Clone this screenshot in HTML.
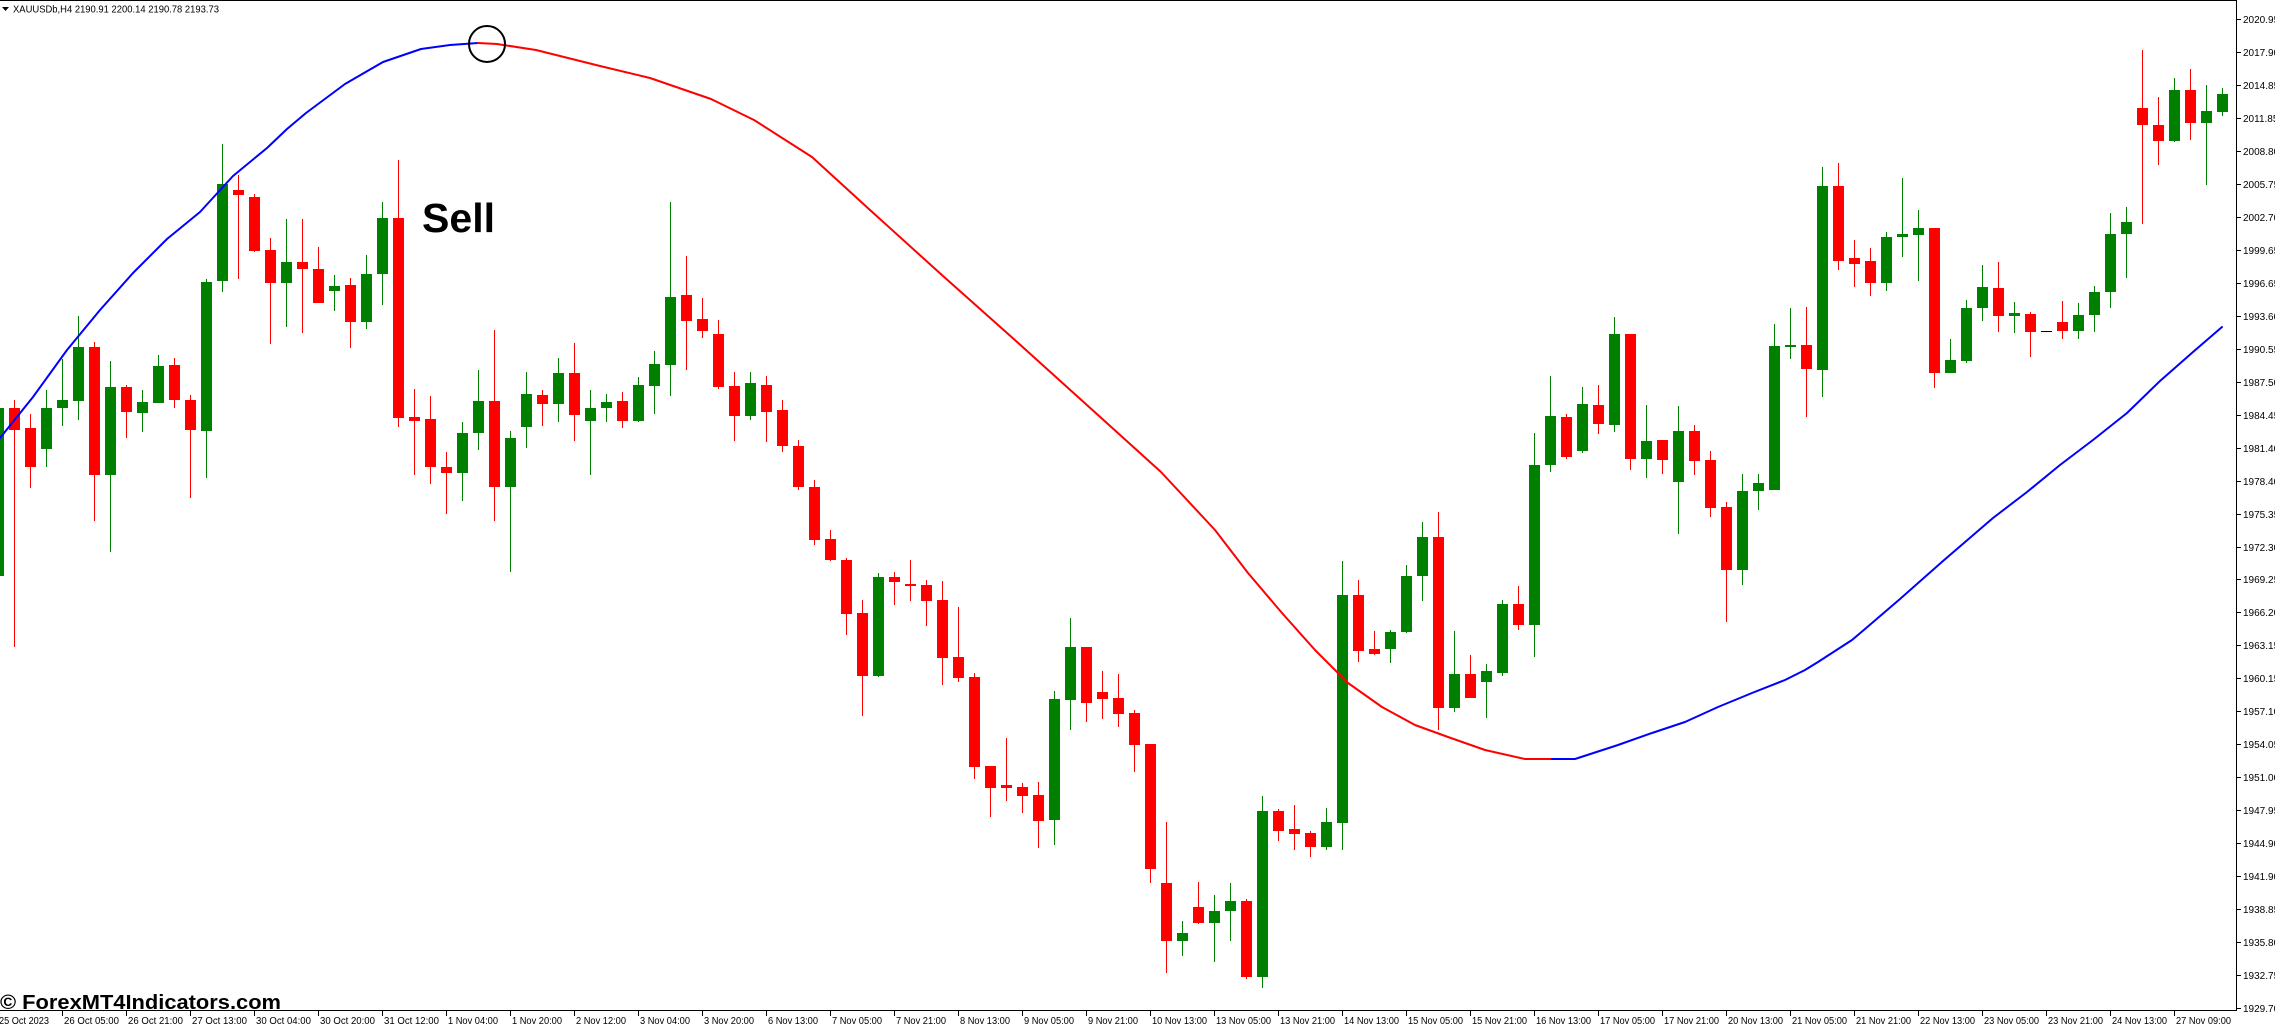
<!DOCTYPE html>
<html><head><meta charset="utf-8"><style>html,body{margin:0;padding:0;background:#fff;}svg{display:block}</style></head>
<body>
<svg width="2275" height="1026" viewBox="0 0 2275 1026" xmlns="http://www.w3.org/2000/svg">
<rect x="0" y="0" width="2275" height="1026" fill="#fff"/>
<!-- green candles -->
<g fill="#008000">
<rect x="-2" y="400" width="1" height="178"/><rect x="-7" y="408" width="11" height="168"/>
<rect x="46" y="390" width="1" height="77"/><rect x="41" y="408" width="11" height="41"/>
<rect x="62" y="359" width="1" height="67"/><rect x="57" y="400" width="11" height="8"/>
<rect x="78" y="316" width="1" height="104"/><rect x="73" y="347" width="11" height="54"/>
<rect x="110" y="361" width="1" height="191"/><rect x="105" y="387" width="11" height="88"/>
<rect x="142" y="390" width="1" height="42"/><rect x="137" y="402" width="11" height="11"/>
<rect x="158" y="355" width="1" height="48"/><rect x="153" y="366" width="11" height="37"/>
<rect x="206" y="279" width="1" height="199"/><rect x="201" y="282" width="11" height="149"/>
<rect x="222" y="144" width="1" height="148"/><rect x="217" y="184" width="11" height="97"/>
<rect x="286" y="219" width="1" height="108"/><rect x="281" y="262" width="11" height="21"/>
<rect x="334" y="275" width="1" height="36"/><rect x="329" y="286" width="11" height="5"/>
<rect x="366" y="255" width="1" height="74"/><rect x="361" y="274" width="11" height="48"/>
<rect x="382" y="202" width="1" height="103"/><rect x="377" y="218" width="11" height="56"/>
<rect x="462" y="422" width="1" height="79"/><rect x="457" y="433" width="11" height="40"/>
<rect x="478" y="370" width="1" height="80"/><rect x="473" y="401" width="11" height="32"/>
<rect x="510" y="431" width="1" height="141"/><rect x="505" y="438" width="11" height="49"/>
<rect x="526" y="372" width="1" height="76"/><rect x="521" y="394" width="11" height="33"/>
<rect x="558" y="358" width="1" height="64"/><rect x="553" y="373" width="11" height="31"/>
<rect x="590" y="390" width="1" height="85"/><rect x="585" y="408" width="11" height="13"/>
<rect x="606" y="394" width="1" height="28"/><rect x="601" y="402" width="11" height="6"/>
<rect x="638" y="377" width="1" height="45"/><rect x="633" y="385" width="11" height="36"/>
<rect x="654" y="351" width="1" height="63"/><rect x="649" y="364" width="11" height="22"/>
<rect x="670" y="202" width="1" height="194"/><rect x="665" y="297" width="11" height="68"/>
<rect x="750" y="372" width="1" height="48"/><rect x="745" y="383" width="11" height="33"/>
<rect x="878" y="573" width="1" height="104"/><rect x="873" y="577" width="11" height="99"/>
<rect x="1054" y="691" width="1" height="154"/><rect x="1049" y="699" width="11" height="121"/>
<rect x="1070" y="618" width="1" height="112"/><rect x="1065" y="647" width="11" height="53"/>
<rect x="1182" y="921" width="1" height="35"/><rect x="1177" y="933" width="11" height="8"/>
<rect x="1214" y="895" width="1" height="67"/><rect x="1209" y="911" width="11" height="12"/>
<rect x="1230" y="883" width="1" height="58"/><rect x="1225" y="901" width="11" height="10"/>
<rect x="1262" y="796" width="1" height="192"/><rect x="1257" y="811" width="11" height="166"/>
<rect x="1326" y="808" width="1" height="42"/><rect x="1321" y="822" width="11" height="25"/>
<rect x="1342" y="561" width="1" height="289"/><rect x="1337" y="595" width="11" height="228"/>
<rect x="1390" y="630" width="1" height="33"/><rect x="1385" y="632" width="11" height="17"/>
<rect x="1406" y="565" width="1" height="68"/><rect x="1401" y="576" width="11" height="56"/>
<rect x="1422" y="522" width="1" height="79"/><rect x="1417" y="537" width="11" height="39"/>
<rect x="1454" y="631" width="1" height="81"/><rect x="1449" y="674" width="11" height="34"/>
<rect x="1486" y="664" width="1" height="54"/><rect x="1481" y="671" width="11" height="11"/>
<rect x="1502" y="600" width="1" height="76"/><rect x="1497" y="604" width="11" height="69"/>
<rect x="1534" y="433" width="1" height="224"/><rect x="1529" y="465" width="11" height="160"/>
<rect x="1550" y="376" width="1" height="96"/><rect x="1545" y="416" width="11" height="49"/>
<rect x="1582" y="387" width="1" height="66"/><rect x="1577" y="404" width="11" height="47"/>
<rect x="1614" y="317" width="1" height="115"/><rect x="1609" y="334" width="11" height="91"/>
<rect x="1646" y="405" width="1" height="73"/><rect x="1641" y="441" width="11" height="18"/>
<rect x="1678" y="406" width="1" height="128"/><rect x="1673" y="431" width="11" height="51"/>
<rect x="1742" y="474" width="1" height="111"/><rect x="1737" y="491" width="11" height="79"/>
<rect x="1758" y="474" width="1" height="36"/><rect x="1753" y="483" width="11" height="8"/>
<rect x="1774" y="324" width="1" height="166"/><rect x="1769" y="346" width="11" height="144"/>
<rect x="1790" y="308" width="1" height="51"/><rect x="1785" y="345" width="11" height="2"/>
<rect x="1822" y="167" width="1" height="230"/><rect x="1817" y="186" width="11" height="184"/>
<rect x="1886" y="232" width="1" height="59"/><rect x="1881" y="237" width="11" height="46"/>
<rect x="1902" y="178" width="1" height="79"/><rect x="1897" y="234" width="11" height="3"/>
<rect x="1918" y="210" width="1" height="71"/><rect x="1913" y="228" width="11" height="7"/>
<rect x="1950" y="339" width="1" height="34"/><rect x="1945" y="360" width="11" height="13"/>
<rect x="1966" y="300" width="1" height="63"/><rect x="1961" y="308" width="11" height="53"/>
<rect x="1982" y="265" width="1" height="56"/><rect x="1977" y="287" width="11" height="21"/>
<rect x="2014" y="302" width="1" height="31"/><rect x="2009" y="313" width="11" height="3"/>
<rect x="2078" y="303" width="1" height="36"/><rect x="2073" y="315" width="11" height="16"/>
<rect x="2094" y="286" width="1" height="46"/><rect x="2089" y="292" width="11" height="23"/>
<rect x="2110" y="213" width="1" height="95"/><rect x="2105" y="234" width="11" height="58"/>
<rect x="2126" y="207" width="1" height="71"/><rect x="2121" y="222" width="11" height="12"/>
<rect x="2174" y="78" width="1" height="64"/><rect x="2169" y="90" width="11" height="51"/>
<rect x="2206" y="85" width="1" height="100"/><rect x="2201" y="111" width="11" height="12"/>
<rect x="2222" y="88" width="1" height="28"/><rect x="2217" y="94" width="11" height="18"/>
</g>
<!-- red candles -->
<g fill="#ff0000">
<rect x="14" y="400" width="1" height="247"/><rect x="9" y="408" width="11" height="22"/>
<rect x="30" y="414" width="1" height="74"/><rect x="25" y="428" width="11" height="39"/>
<rect x="94" y="342" width="1" height="179"/><rect x="89" y="347" width="11" height="128"/>
<rect x="126" y="385" width="1" height="53"/><rect x="121" y="387" width="11" height="25"/>
<rect x="174" y="358" width="1" height="50"/><rect x="169" y="365" width="11" height="35"/>
<rect x="190" y="395" width="1" height="103"/><rect x="185" y="400" width="11" height="30"/>
<rect x="238" y="175" width="1" height="104"/><rect x="233" y="190" width="11" height="5"/>
<rect x="254" y="194" width="1" height="58"/><rect x="249" y="197" width="11" height="54"/>
<rect x="270" y="238" width="1" height="106"/><rect x="265" y="250" width="11" height="33"/>
<rect x="302" y="219" width="1" height="114"/><rect x="297" y="262" width="11" height="7"/>
<rect x="318" y="247" width="1" height="56"/><rect x="313" y="269" width="11" height="34"/>
<rect x="350" y="278" width="1" height="70"/><rect x="345" y="285" width="11" height="37"/>
<rect x="398" y="160" width="1" height="267"/><rect x="393" y="218" width="11" height="200"/>
<rect x="414" y="389" width="1" height="86"/><rect x="409" y="417" width="11" height="4"/>
<rect x="430" y="396" width="1" height="88"/><rect x="425" y="419" width="11" height="48"/>
<rect x="446" y="452" width="1" height="62"/><rect x="441" y="467" width="11" height="6"/>
<rect x="494" y="330" width="1" height="191"/><rect x="489" y="401" width="11" height="86"/>
<rect x="542" y="390" width="1" height="36"/><rect x="537" y="395" width="11" height="9"/>
<rect x="574" y="343" width="1" height="98"/><rect x="569" y="373" width="11" height="42"/>
<rect x="622" y="392" width="1" height="36"/><rect x="617" y="401" width="11" height="20"/>
<rect x="686" y="256" width="1" height="114"/><rect x="681" y="295" width="11" height="26"/>
<rect x="702" y="298" width="1" height="40"/><rect x="697" y="319" width="11" height="12"/>
<rect x="718" y="320" width="1" height="69"/><rect x="713" y="334" width="11" height="53"/>
<rect x="734" y="372" width="1" height="69"/><rect x="729" y="386" width="11" height="30"/>
<rect x="766" y="376" width="1" height="66"/><rect x="761" y="385" width="11" height="27"/>
<rect x="782" y="400" width="1" height="52"/><rect x="777" y="410" width="11" height="36"/>
<rect x="798" y="440" width="1" height="50"/><rect x="793" y="446" width="11" height="41"/>
<rect x="814" y="480" width="1" height="65"/><rect x="809" y="487" width="11" height="53"/>
<rect x="830" y="530" width="1" height="31"/><rect x="825" y="539" width="11" height="21"/>
<rect x="846" y="558" width="1" height="77"/><rect x="841" y="560" width="11" height="54"/>
<rect x="862" y="600" width="1" height="116"/><rect x="857" y="613" width="11" height="63"/>
<rect x="894" y="572" width="1" height="33"/><rect x="889" y="577" width="11" height="5"/>
<rect x="910" y="560" width="1" height="41"/><rect x="905" y="584" width="11" height="2"/>
<rect x="926" y="580" width="1" height="46"/><rect x="921" y="585" width="11" height="16"/>
<rect x="942" y="581" width="1" height="104"/><rect x="937" y="600" width="11" height="58"/>
<rect x="958" y="607" width="1" height="75"/><rect x="953" y="657" width="11" height="21"/>
<rect x="974" y="673" width="1" height="106"/><rect x="969" y="677" width="11" height="90"/>
<rect x="990" y="766" width="1" height="51"/><rect x="985" y="766" width="11" height="22"/>
<rect x="1006" y="738" width="1" height="63"/><rect x="1001" y="785" width="11" height="3"/>
<rect x="1022" y="783" width="1" height="30"/><rect x="1017" y="787" width="11" height="9"/>
<rect x="1038" y="782" width="1" height="66"/><rect x="1033" y="795" width="11" height="26"/>
<rect x="1086" y="647" width="1" height="75"/><rect x="1081" y="647" width="11" height="56"/>
<rect x="1102" y="671" width="1" height="48"/><rect x="1097" y="692" width="11" height="7"/>
<rect x="1118" y="674" width="1" height="53"/><rect x="1113" y="698" width="11" height="16"/>
<rect x="1134" y="710" width="1" height="62"/><rect x="1129" y="713" width="11" height="32"/>
<rect x="1150" y="744" width="1" height="139"/><rect x="1145" y="744" width="11" height="125"/>
<rect x="1166" y="822" width="1" height="151"/><rect x="1161" y="883" width="11" height="58"/>
<rect x="1198" y="882" width="1" height="42"/><rect x="1193" y="907" width="11" height="16"/>
<rect x="1246" y="899" width="1" height="80"/><rect x="1241" y="901" width="11" height="76"/>
<rect x="1278" y="809" width="1" height="32"/><rect x="1273" y="811" width="11" height="20"/>
<rect x="1294" y="805" width="1" height="45"/><rect x="1289" y="829" width="11" height="5"/>
<rect x="1310" y="831" width="1" height="26"/><rect x="1305" y="833" width="11" height="14"/>
<rect x="1358" y="580" width="1" height="82"/><rect x="1353" y="595" width="11" height="56"/>
<rect x="1374" y="631" width="1" height="24"/><rect x="1369" y="649" width="11" height="5"/>
<rect x="1438" y="512" width="1" height="218"/><rect x="1433" y="537" width="11" height="171"/>
<rect x="1470" y="655" width="1" height="43"/><rect x="1465" y="674" width="11" height="24"/>
<rect x="1518" y="586" width="1" height="44"/><rect x="1513" y="604" width="11" height="21"/>
<rect x="1566" y="414" width="1" height="45"/><rect x="1561" y="417" width="11" height="40"/>
<rect x="1598" y="385" width="1" height="49"/><rect x="1593" y="405" width="11" height="19"/>
<rect x="1630" y="334" width="1" height="136"/><rect x="1625" y="334" width="11" height="125"/>
<rect x="1662" y="440" width="1" height="34"/><rect x="1657" y="440" width="11" height="20"/>
<rect x="1694" y="425" width="1" height="50"/><rect x="1689" y="431" width="11" height="30"/>
<rect x="1710" y="451" width="1" height="66"/><rect x="1705" y="460" width="11" height="48"/>
<rect x="1726" y="502" width="1" height="120"/><rect x="1721" y="507" width="11" height="63"/>
<rect x="1806" y="307" width="1" height="110"/><rect x="1801" y="345" width="11" height="24"/>
<rect x="1838" y="163" width="1" height="107"/><rect x="1833" y="186" width="11" height="75"/>
<rect x="1854" y="240" width="1" height="47"/><rect x="1849" y="258" width="11" height="6"/>
<rect x="1870" y="248" width="1" height="48"/><rect x="1865" y="261" width="11" height="22"/>
<rect x="1934" y="228" width="1" height="160"/><rect x="1929" y="228" width="11" height="145"/>
<rect x="1998" y="262" width="1" height="70"/><rect x="1993" y="288" width="11" height="28"/>
<rect x="2030" y="312" width="1" height="45"/><rect x="2025" y="314" width="11" height="18"/>
<rect x="2062" y="301" width="1" height="38"/><rect x="2057" y="322" width="11" height="9"/>
<rect x="2142" y="50" width="1" height="174"/><rect x="2137" y="108" width="11" height="17"/>
<rect x="2158" y="97" width="1" height="68"/><rect x="2153" y="125" width="11" height="16"/>
<rect x="2190" y="69" width="1" height="71"/><rect x="2185" y="90" width="11" height="33"/>
</g>
<rect x="2041" y="331" width="11" height="1" fill="#000"/>

<!-- indicator line -->
<g fill="none" stroke-width="2" stroke-linejoin="round" stroke-linecap="round">
<polyline stroke="#0000ff" points="-2,440 0,438 33,397 67,350 100,310 133,273 167,239 200,212 233,176 267,148 287,129 306,113 345,84 383,62 421,49 450,45 478,43"/>
<polyline stroke="#ff0000" points="478,43 497,44 536,50 600,66 650,78 711,99 754,120 812,157 870,210 943,276 1016,341 1088,406 1161,472 1215,530 1248,573 1282,613 1315,650 1338,673 1348,683 1382,707 1415,725 1448,737 1485,750 1525,759 1552,759"/>
<polyline stroke="#0000ff" points="1552,759 1575,759 1618,745 1652,733 1685,722 1718,707 1752,693 1785,680 1805,670 1818,662 1852,640 1865,629 1900,599 1943,561 1993,518 2027,492 2060,465 2093,440 2127,413 2160,381 2193,352 2222,327"/>
</g>
<circle cx="487" cy="44" r="18" fill="none" stroke="#000" stroke-width="2"/>

<text x="422" y="232" font-family="Liberation Sans, Arial, sans-serif" font-weight="bold" font-size="41" textLength="73" lengthAdjust="spacingAndGlyphs" fill="#000">Sell</text>

<!-- frame -->
<g stroke="#000" stroke-width="1" fill="none">
<line x1="0" y1="0.5" x2="2237" y2="0.5"/>
<line x1="2236.5" y1="0" x2="2236.5" y2="1011"/>
<line x1="0" y1="1010.5" x2="2237" y2="1010.5"/>
</g>

<!-- title -->
<polygon points="2,7 9,7 5.5,11" fill="#000"/>
<text x="13" y="12.5" font-family="Liberation Sans, Arial, sans-serif" font-size="10" textLength="206" lengthAdjust="spacingAndGlyphs" fill="#000">XAUUSDb,H4  2190.91 2200.14 2190.78 2193.73</text>

<!-- copyright -->
<text x="0" y="1009" font-family="Liberation Sans, Arial, sans-serif" font-weight="bold" font-size="20" textLength="281" lengthAdjust="spacingAndGlyphs" fill="#000">© ForexMT4Indicators.com</text>

<!-- price axis ticks -->
<g stroke="#000" stroke-width="1">
<line x1="2237" y1="19.5" x2="2241" y2="19.5"/><line x1="2237" y1="52.5" x2="2241" y2="52.5"/><line x1="2237" y1="85.5" x2="2241" y2="85.5"/><line x1="2237" y1="118.5" x2="2241" y2="118.5"/><line x1="2237" y1="151.5" x2="2241" y2="151.5"/><line x1="2237" y1="184.5" x2="2241" y2="184.5"/><line x1="2237" y1="217.5" x2="2241" y2="217.5"/><line x1="2237" y1="250.5" x2="2241" y2="250.5"/><line x1="2237" y1="283.5" x2="2241" y2="283.5"/><line x1="2237" y1="316.5" x2="2241" y2="316.5"/><line x1="2237" y1="349.5" x2="2241" y2="349.5"/><line x1="2237" y1="382.5" x2="2241" y2="382.5"/><line x1="2237" y1="415.5" x2="2241" y2="415.5"/><line x1="2237" y1="448.5" x2="2241" y2="448.5"/><line x1="2237" y1="481.5" x2="2241" y2="481.5"/><line x1="2237" y1="514.5" x2="2241" y2="514.5"/><line x1="2237" y1="547.5" x2="2241" y2="547.5"/><line x1="2237" y1="579.5" x2="2241" y2="579.5"/><line x1="2237" y1="612.5" x2="2241" y2="612.5"/><line x1="2237" y1="645.5" x2="2241" y2="645.5"/><line x1="2237" y1="678.5" x2="2241" y2="678.5"/><line x1="2237" y1="711.5" x2="2241" y2="711.5"/><line x1="2237" y1="744.5" x2="2241" y2="744.5"/><line x1="2237" y1="777.5" x2="2241" y2="777.5"/><line x1="2237" y1="810.5" x2="2241" y2="810.5"/><line x1="2237" y1="843.5" x2="2241" y2="843.5"/><line x1="2237" y1="876.5" x2="2241" y2="876.5"/><line x1="2237" y1="909.5" x2="2241" y2="909.5"/><line x1="2237" y1="942.5" x2="2241" y2="942.5"/><line x1="2237" y1="975.5" x2="2241" y2="975.5"/><line x1="2237" y1="1008.5" x2="2241" y2="1008.5"/>
</g>
<g font-family="Liberation Sans, Arial, sans-serif" font-size="10" fill="#000">
<text x="2243" y="23">2020.95</text><text x="2243" y="56">2017.90</text><text x="2243" y="89">2014.85</text><text x="2243" y="122">2011.85</text><text x="2243" y="155">2008.80</text><text x="2243" y="188">2005.75</text><text x="2243" y="221">2002.70</text><text x="2243" y="254">1999.65</text><text x="2243" y="287">1996.65</text><text x="2243" y="320">1993.60</text><text x="2243" y="353">1990.55</text><text x="2243" y="386">1987.50</text><text x="2243" y="419">1984.45</text><text x="2243" y="452">1981.40</text><text x="2243" y="485">1978.40</text><text x="2243" y="518">1975.35</text><text x="2243" y="551">1972.30</text><text x="2243" y="583">1969.25</text><text x="2243" y="616">1966.20</text><text x="2243" y="649">1963.15</text><text x="2243" y="682">1960.15</text><text x="2243" y="715">1957.10</text><text x="2243" y="748">1954.05</text><text x="2243" y="781">1951.00</text><text x="2243" y="814">1947.95</text><text x="2243" y="847">1944.90</text><text x="2243" y="880">1941.90</text><text x="2243" y="913">1938.85</text><text x="2243" y="946">1935.80</text><text x="2243" y="979">1932.75</text><text x="2243" y="1012">1929.70</text>
</g>

<!-- time axis ticks -->
<g stroke="#000" stroke-width="1">
<line x1="-1.5" y1="1011" x2="-1.5" y2="1016"/><line x1="62.5" y1="1011" x2="62.5" y2="1016"/><line x1="126.5" y1="1011" x2="126.5" y2="1016"/><line x1="190.5" y1="1011" x2="190.5" y2="1016"/><line x1="254.5" y1="1011" x2="254.5" y2="1016"/><line x1="318.5" y1="1011" x2="318.5" y2="1016"/><line x1="382.5" y1="1011" x2="382.5" y2="1016"/><line x1="446.5" y1="1011" x2="446.5" y2="1016"/><line x1="510.5" y1="1011" x2="510.5" y2="1016"/><line x1="574.5" y1="1011" x2="574.5" y2="1016"/><line x1="638.5" y1="1011" x2="638.5" y2="1016"/><line x1="702.5" y1="1011" x2="702.5" y2="1016"/><line x1="766.5" y1="1011" x2="766.5" y2="1016"/><line x1="830.5" y1="1011" x2="830.5" y2="1016"/><line x1="894.5" y1="1011" x2="894.5" y2="1016"/><line x1="958.5" y1="1011" x2="958.5" y2="1016"/><line x1="1022.5" y1="1011" x2="1022.5" y2="1016"/><line x1="1086.5" y1="1011" x2="1086.5" y2="1016"/><line x1="1150.5" y1="1011" x2="1150.5" y2="1016"/><line x1="1214.5" y1="1011" x2="1214.5" y2="1016"/><line x1="1278.5" y1="1011" x2="1278.5" y2="1016"/><line x1="1342.5" y1="1011" x2="1342.5" y2="1016"/><line x1="1406.5" y1="1011" x2="1406.5" y2="1016"/><line x1="1470.5" y1="1011" x2="1470.5" y2="1016"/><line x1="1534.5" y1="1011" x2="1534.5" y2="1016"/><line x1="1598.5" y1="1011" x2="1598.5" y2="1016"/><line x1="1662.5" y1="1011" x2="1662.5" y2="1016"/><line x1="1726.5" y1="1011" x2="1726.5" y2="1016"/><line x1="1790.5" y1="1011" x2="1790.5" y2="1016"/><line x1="1854.5" y1="1011" x2="1854.5" y2="1016"/><line x1="1918.5" y1="1011" x2="1918.5" y2="1016"/><line x1="1982.5" y1="1011" x2="1982.5" y2="1016"/><line x1="2046.5" y1="1011" x2="2046.5" y2="1016"/><line x1="2110.5" y1="1011" x2="2110.5" y2="1016"/><line x1="2174.5" y1="1011" x2="2174.5" y2="1016"/>
</g>
<g font-family="Liberation Sans, Arial, sans-serif" font-size="10" fill="#000" lengthAdjust="spacingAndGlyphs">
<text x="-1" y="1024" textLength="50" lengthAdjust="spacingAndGlyphs">25 Oct 2023</text>
<text x="64" y="1024" textLength="55" lengthAdjust="spacingAndGlyphs">26 Oct 05:00</text>
<text x="128" y="1024" textLength="55" lengthAdjust="spacingAndGlyphs">26 Oct 21:00</text>
<text x="192" y="1024" textLength="55" lengthAdjust="spacingAndGlyphs">27 Oct 13:00</text>
<text x="256" y="1024" textLength="55" lengthAdjust="spacingAndGlyphs">30 Oct 04:00</text>
<text x="320" y="1024" textLength="55" lengthAdjust="spacingAndGlyphs">30 Oct 20:00</text>
<text x="384" y="1024" textLength="55" lengthAdjust="spacingAndGlyphs">31 Oct 12:00</text>
<text x="448" y="1024" textLength="50" lengthAdjust="spacingAndGlyphs">1 Nov 04:00</text>
<text x="512" y="1024" textLength="50" lengthAdjust="spacingAndGlyphs">1 Nov 20:00</text>
<text x="576" y="1024" textLength="50" lengthAdjust="spacingAndGlyphs">2 Nov 12:00</text>
<text x="640" y="1024" textLength="50" lengthAdjust="spacingAndGlyphs">3 Nov 04:00</text>
<text x="704" y="1024" textLength="50" lengthAdjust="spacingAndGlyphs">3 Nov 20:00</text>
<text x="768" y="1024" textLength="50" lengthAdjust="spacingAndGlyphs">6 Nov 13:00</text>
<text x="832" y="1024" textLength="50" lengthAdjust="spacingAndGlyphs">7 Nov 05:00</text>
<text x="896" y="1024" textLength="50" lengthAdjust="spacingAndGlyphs">7 Nov 21:00</text>
<text x="960" y="1024" textLength="50" lengthAdjust="spacingAndGlyphs">8 Nov 13:00</text>
<text x="1024" y="1024" textLength="50" lengthAdjust="spacingAndGlyphs">9 Nov 05:00</text>
<text x="1088" y="1024" textLength="50" lengthAdjust="spacingAndGlyphs">9 Nov 21:00</text>
<text x="1152" y="1024" textLength="55" lengthAdjust="spacingAndGlyphs">10 Nov 13:00</text>
<text x="1216" y="1024" textLength="55" lengthAdjust="spacingAndGlyphs">13 Nov 05:00</text>
<text x="1280" y="1024" textLength="55" lengthAdjust="spacingAndGlyphs">13 Nov 21:00</text>
<text x="1344" y="1024" textLength="55" lengthAdjust="spacingAndGlyphs">14 Nov 13:00</text>
<text x="1408" y="1024" textLength="55" lengthAdjust="spacingAndGlyphs">15 Nov 05:00</text>
<text x="1472" y="1024" textLength="55" lengthAdjust="spacingAndGlyphs">15 Nov 21:00</text>
<text x="1536" y="1024" textLength="55" lengthAdjust="spacingAndGlyphs">16 Nov 13:00</text>
<text x="1600" y="1024" textLength="55" lengthAdjust="spacingAndGlyphs">17 Nov 05:00</text>
<text x="1664" y="1024" textLength="55" lengthAdjust="spacingAndGlyphs">17 Nov 21:00</text>
<text x="1728" y="1024" textLength="55" lengthAdjust="spacingAndGlyphs">20 Nov 13:00</text>
<text x="1792" y="1024" textLength="55" lengthAdjust="spacingAndGlyphs">21 Nov 05:00</text>
<text x="1856" y="1024" textLength="55" lengthAdjust="spacingAndGlyphs">21 Nov 21:00</text>
<text x="1920" y="1024" textLength="55" lengthAdjust="spacingAndGlyphs">22 Nov 13:00</text>
<text x="1984" y="1024" textLength="55" lengthAdjust="spacingAndGlyphs">23 Nov 05:00</text>
<text x="2048" y="1024" textLength="55" lengthAdjust="spacingAndGlyphs">23 Nov 21:00</text>
<text x="2112" y="1024" textLength="55" lengthAdjust="spacingAndGlyphs">24 Nov 13:00</text>
<text x="2176" y="1024" textLength="55" lengthAdjust="spacingAndGlyphs">27 Nov 09:00</text>
</g>
</svg>
</body></html>
